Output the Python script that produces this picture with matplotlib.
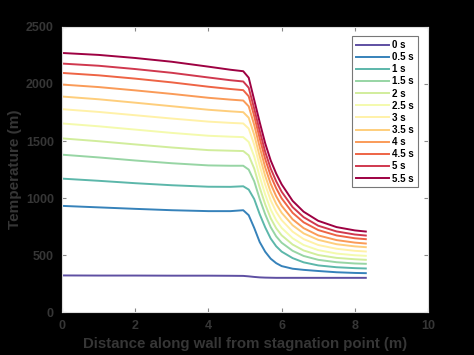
import numpy as np
import matplotlib
matplotlib.use("Agg")
import matplotlib.pyplot as plt

# distance along wall (m)
x = [0, 1, 2, 3, 4, 4.6, 4.95, 5.1, 5.25, 5.4, 5.55, 5.7, 5.85, 6.0, 6.3, 6.6, 7.0, 7.5, 8.0, 8.3]

labels = ['0 s', '0.5 s', '1 s', '1.5 s', '2 s', '2.5 s', '3 s', '3.5 s', '4 s', '4.5 s', '5 s', '5.5 s']

# temperature, one list per time step
t_00 = [321, 320, 320, 319, 319, 318, 317, 313, 308, 304, 302, 301, 300, 300, 300, 300, 300, 300, 300, 300]
t_05 = [931, 918, 905, 893, 885, 885, 893, 849, 738, 614, 529, 468, 429, 403, 380, 370, 360, 349, 343, 341]
t_10 = [1170, 1151, 1130, 1112, 1099, 1098, 1103, 1074, 991, 858, 743, 645, 577, 530, 473, 436, 409, 393, 385, 382]
t_15 = [1380, 1356, 1329, 1305, 1286, 1283, 1283, 1249, 1147, 992, 858, 745, 664, 608, 537, 492, 458, 437, 426, 423]
t_20 = [1523, 1498, 1470, 1443, 1420, 1415, 1412, 1374, 1259, 1092, 945, 823, 735, 673, 592, 540, 500, 475, 463, 458]
t_25 = [1654, 1629, 1600, 1571, 1546, 1538, 1534, 1492, 1364, 1187, 1031, 900, 806, 738, 647, 588, 543, 513, 498, 493]
t_30 = [1779, 1755, 1726, 1697, 1670, 1659, 1654, 1609, 1468, 1283, 1117, 980, 880, 806, 705, 640, 588, 555, 537, 531]
t_35 = [1890, 1866, 1836, 1805, 1774, 1760, 1753, 1704, 1554, 1365, 1194, 1053, 949, 870, 761, 690, 633, 595, 576, 569]
t_40 = [1995, 1973, 1944, 1913, 1879, 1863, 1855, 1804, 1641, 1447, 1269, 1125, 1016, 932, 813, 736, 672, 631, 609, 601]
t_45 = [2097, 2076, 2047, 2014, 1976, 1956, 1946, 1892, 1719, 1524, 1343, 1196, 1086, 997, 870, 787, 719, 672, 647, 639]
t_50 = [2179, 2160, 2131, 2098, 2057, 2033, 2022, 1967, 1784, 1590, 1406, 1259, 1147, 1055, 920, 832, 757, 707, 680, 671]
t_55 = [2272, 2255, 2228, 2195, 2152, 2125, 2112, 2055, 1860, 1665, 1480, 1330, 1215, 1120, 975, 880, 800, 745, 716, 706]

series = [t_00, t_05, t_10, t_15, t_20, t_25, t_30, t_35, t_40, t_45, t_50, t_55]

plt.rcParams['font.family'] = ['Liberation Sans', 'DejaVu Sans']
plt.rcParams['font.weight'] = 'bold'

fig = plt.figure(figsize=(4.74, 3.55), dpi=100, facecolor='black')
ax = fig.add_axes([0.131, 0.121, 0.772, 0.803])
ax.set_facecolor('white')

colors = plt.cm.Spectral_r(np.linspace(0, 1, len(series)))
for vals, lab, c in zip(series, labels, colors):
    ax.plot(x, vals, color=c, linewidth=1.4, label=lab)

txt = '#363636'
ax.set_xlim(0, 10)
ax.set_ylim(0, 2500)
ax.set_xticks([0, 2, 4, 6, 8, 10])
ax.set_yticks([0, 500, 1000, 1500, 2000, 2500])
ax.tick_params(direction='in', length=3, color='#888888', labelcolor=txt,
               labelsize=9, top=True, right=True, pad=6)
for sp in ax.spines.values():
    sp.set_color('#dddddd')
    sp.set_linewidth(0.8)

ax.set_xlabel('Distance along wall from stagnation point (m)', color=txt,
              fontsize=10.8, fontweight='bold', labelpad=3)
ax.set_ylabel('Temperature (m)', color=txt, fontsize=11, fontweight='bold', labelpad=3)

leg = ax.legend(loc='upper right', fontsize=7, handlelength=3.4, handletextpad=0.3,
                labelspacing=0.22, borderpad=0.4, fancybox=False,
                bbox_to_anchor=(0.985, 0.985))
leg.get_frame().set_edgecolor('#555555')
leg.get_frame().set_linewidth(0.8)

fig.savefig('out.png', dpi=100, facecolor='black')
